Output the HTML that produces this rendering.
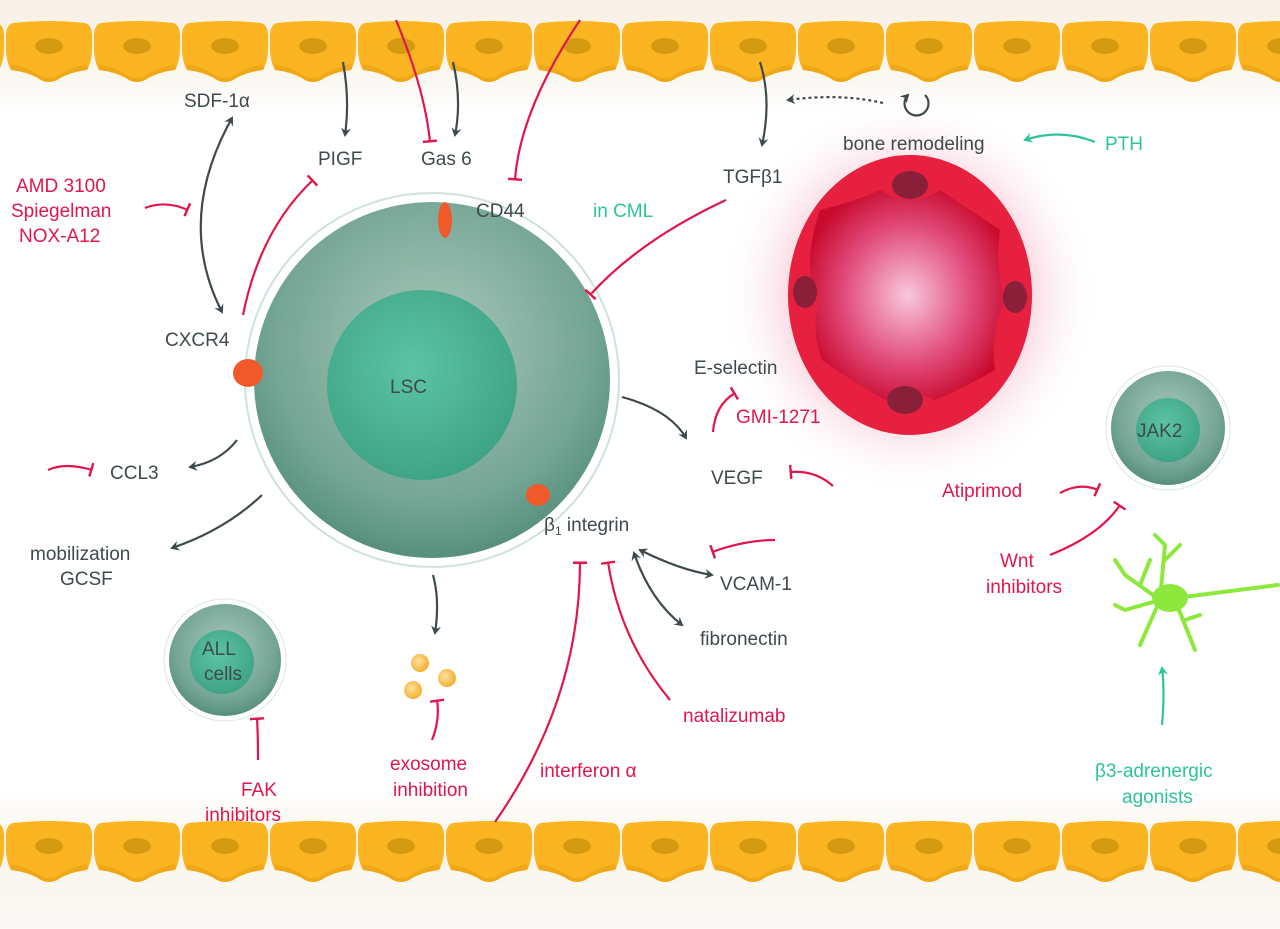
<!DOCTYPE html>
<html><head><meta charset="utf-8"><style>
html,body{margin:0;padding:0;background:#fff}
svg{display:block}
text{font-family:"Liberation Sans",sans-serif;font-size:19px}
.g{fill:#3f4a4e}.r{fill:#e0174d}.t{fill:#2cc49a}
</style></head><body>
<svg width="1280" height="929" viewBox="0 0 1280 929" xmlns="http://www.w3.org/2000/svg">
<defs>
<linearGradient id="topbg" x1="0" y1="0" x2="0" y2="1"><stop offset="0" stop-color="#f7f1e6"/><stop offset="0.7" stop-color="#faf7f1"/><stop offset="1" stop-color="#fff"/></linearGradient>
<linearGradient id="botbg" x1="0" y1="0" x2="0" y2="1"><stop offset="0" stop-color="#fff"/><stop offset="0.4" stop-color="#f8f4ec"/><stop offset="1" stop-color="#fbf9f5"/></linearGradient>
<pattern id="cells" x="5" y="20" width="88" height="70" patternUnits="userSpaceOnUse">
<path d="M8,3 Q44,-1 80,3 Q88,5 87,20 Q88,40 82,50 Q64,52 52,60 Q44,64 36,60 Q24,52 6,50 Q0,40 1,20 Q0,5 8,3Z" fill="#fbb520"/>
<path d="M6,44 Q24,48 36,56 Q44,60 52,56 Q64,48 82,44 Q84,48 82,50 Q64,52 52,60 Q44,64 36,60 Q24,52 6,50Z" fill="#f0a818"/>
<ellipse cx="44" cy="26" rx="14" ry="8" fill="#d49a12"/>
</pattern>
<radialGradient id="lsc" cx="0.5" cy="0.4" r="0.6"><stop offset="0" stop-color="#a9c8bb"/><stop offset="0.75" stop-color="#74a594"/><stop offset="1" stop-color="#568f7d"/></radialGradient>
<radialGradient id="nuc" cx="0.45" cy="0.4" r="0.6"><stop offset="0" stop-color="#5bc4a3"/><stop offset="1" stop-color="#3fa486"/></radialGradient>
<radialGradient id="ves" cx="0.5" cy="0.5" r="0.55"><stop offset="0" stop-color="#f8c8dc"/><stop offset="0.6" stop-color="#e14a7a"/><stop offset="1" stop-color="#c80a2c"/></radialGradient>
<radialGradient id="glow" cx="0.5" cy="0.5" r="0.5"><stop offset="0.6" stop-color="#f8d4de"/><stop offset="1" stop-color="#fff" stop-opacity="0"/></radialGradient>
<radialGradient id="exo" cx="0.4" cy="0.4" r="0.6"><stop offset="0" stop-color="#fde2a0"/><stop offset="1" stop-color="#f5b030"/></radialGradient>
<marker id="ar" markerWidth="10" markerHeight="10" refX="7" refY="5" orient="auto" markerUnits="userSpaceOnUse"><path d="M0,0 L9,5 L0,10 L3,5Z" fill="#3f4a4e"/></marker>
<marker id="ars" markerWidth="10" markerHeight="10" refX="2" refY="5" orient="auto" markerUnits="userSpaceOnUse"><path d="M9,0 L0,5 L9,10 L6,5Z" fill="#3f4a4e"/></marker>
<marker id="art" markerWidth="10" markerHeight="10" refX="7" refY="5" orient="auto" markerUnits="userSpaceOnUse"><path d="M0,0 L9,5 L0,10 L3,5Z" fill="#2cc49a"/></marker>
<marker id="tb" markerWidth="4" markerHeight="16" refX="2" refY="8" orient="auto" markerUnits="userSpaceOnUse"><rect x="0" y="1" width="2.5" height="14" fill="#e0174d"/></marker>
</defs>
<rect width="1280" height="929" fill="#fff"/>
<rect x="0" y="0" width="1280" height="110" fill="url(#topbg)"/>
<rect x="0" y="790" width="1280" height="139" fill="url(#botbg)"/>
<rect x="0" y="20" width="1280" height="65" fill="url(#cells)"/>
<g transform="translate(0,800)"><rect x="0" y="20" width="1280" height="65" fill="url(#cells)"/></g>

<!-- vessel -->
<ellipse cx="910" cy="295" rx="190" ry="200" fill="url(#glow)"/>
<ellipse cx="910" cy="295" rx="122" ry="140" fill="#e8203f"/>
<path d="M820,210 Q860,200 880,190 Q910,210 940,190 Q970,210 1000,230 Q995,270 1005,300 Q990,330 995,370 Q960,390 935,400 Q905,385 885,400 Q850,380 822,360 Q810,330 820,300 Q800,270 820,210Z" fill="url(#ves)"/>
<ellipse cx="910" cy="185" rx="18" ry="14" fill="#8a1f3a"/>
<ellipse cx="805" cy="292" rx="12" ry="16" fill="#8a1f3a"/>
<ellipse cx="1015" cy="297" rx="12" ry="16" fill="#8a1f3a"/>
<ellipse cx="905" cy="400" rx="18" ry="14" fill="#8a1f3a"/>

<!-- LSC -->
<circle cx="432" cy="380" r="187" fill="#fff" stroke="#cfe2d9" stroke-width="2"/>
<circle cx="432" cy="380" r="178" fill="url(#lsc)"/>
<circle cx="422" cy="385" r="95" fill="url(#nuc)"/>
<text x="390" y="393" class="g" font-size="20">LSC</text>
<ellipse cx="445" cy="220" rx="7" ry="18" fill="#f05a2a"/>
<ellipse cx="248" cy="373" rx="15" ry="14" fill="#f05a2a"/>
<ellipse cx="538" cy="495" rx="12" ry="11" fill="#f05a2a"/>

<!-- JAK2 -->
<circle cx="1168" cy="428" r="62" fill="#fff" stroke="#d8e8e0"/>
<circle cx="1168" cy="428" r="57" fill="url(#lsc)"/>
<circle cx="1168" cy="430" r="32" fill="url(#nuc)"/>
<text x="1137" y="437" class="g">JAK2</text>
<!-- ALL -->
<circle cx="225" cy="660" r="61" fill="#fff" stroke="#d8e8e0"/>
<circle cx="225" cy="660" r="56" fill="url(#lsc)"/>
<circle cx="222" cy="662" r="32" fill="url(#nuc)"/>
<text x="202" y="655" class="g">ALL</text><text x="204" y="680" class="g">cells</text>
<!-- exosomes -->
<circle cx="420" cy="663" r="9" fill="url(#exo)"/><circle cx="447" cy="678" r="9" fill="url(#exo)"/><circle cx="413" cy="690" r="9" fill="url(#exo)"/>
<!-- neuron -->
<g stroke="#8de83c" stroke-width="4" fill="none" stroke-linecap="round">
<path d="M1160,600 L1278,585"/><path d="M1160,600 L1125,575 L1115,560"/><path d="M1140,585 L1150,560"/><path d="M1160,600 L1165,545 L1155,535"/><path d="M1165,560 L1180,545"/><path d="M1160,600 L1125,610 L1115,605"/><path d="M1160,600 L1140,645"/><path d="M1175,600 L1195,650"/><path d="M1185,620 L1200,615"/>
</g>
<ellipse cx="1170" cy="598" rx="18" ry="14" fill="#8de83c"/>

<!-- gray arrows -->
<g stroke="#3f4a4e" stroke-width="2.2" fill="none">
<path d="M222,312 Q175,220 232,118" marker-end="url(#ar)" marker-start="url(#ars)"/>
<path d="M343,62 Q350,100 345,135" marker-end="url(#ar)"/>
<path d="M453,62 Q462,100 455,135" marker-end="url(#ar)"/>
<path d="M760,62 Q772,100 762,145" marker-end="url(#ar)"/>
<path d="M883,103 Q840,93 788,100" stroke-dasharray="3,3" marker-end="url(#ar)"/>
<path d="M925,95 A12,12 0 1 1 908,95" marker-end="url(#ar)"/>
<path d="M237,440 Q220,462 190,467" marker-end="url(#ar)"/>
<path d="M262,495 Q225,530 172,548" marker-end="url(#ar)"/>
<path d="M433,575 Q440,600 435,633" marker-end="url(#ar)"/>
<path d="M622,397 Q670,410 686,438" marker-end="url(#ar)"/>
<path d="M640,550 Q680,570 712,575" marker-end="url(#ar)" marker-start="url(#ars)"/>
<path d="M634,553 Q650,600 682,625" marker-end="url(#ar)" marker-start="url(#ars)"/>
</g>
<path d="M1095,142 Q1060,128 1025,140" stroke="#2cc49a" stroke-width="2.2" fill="none" marker-end="url(#art)"/>
<path d="M1162,725 Q1165,690 1162,668" stroke="#2cc49a" stroke-width="2.2" fill="none" marker-end="url(#art)"/>

<!-- red inhibition -->
<g stroke="#e0174d" stroke-width="2.2" fill="none">
<path d="M396,20 Q425,90 430,142" marker-end="url(#tb)"/>
<path d="M580,20 Q520,110 515,180" marker-end="url(#tb)"/>
<path d="M243,315 Q260,230 313,180" marker-end="url(#tb)"/>
<path d="M145,208 Q165,200 188,210" marker-end="url(#tb)"/>
<path d="M726,200 Q640,240 590,295" marker-end="url(#tb)"/>
<path d="M713,432 Q715,405 735,393" marker-end="url(#tb)"/>
<path d="M833,486 Q815,470 790,472" marker-end="url(#tb)"/>
<path d="M48,470 Q65,462 92,470" marker-end="url(#tb)"/>
<path d="M775,540 Q745,540 712,552" marker-end="url(#tb)"/>
<path d="M495,822 Q580,700 580,562" marker-end="url(#tb)"/>
<path d="M670,700 Q620,640 608,562" marker-end="url(#tb)"/>
<path d="M432,740 Q440,720 437,700" marker-end="url(#tb)"/>
<path d="M258,760 Q258,735 257,718" marker-end="url(#tb)"/>
<path d="M1060,493 Q1080,482 1098,490" marker-end="url(#tb)"/>
<path d="M1050,555 Q1100,535 1120,505" marker-end="url(#tb)"/>
</g>

<!-- labels -->
<text x="184" y="107" class="g">SDF-1α</text>
<text x="318" y="165" class="g">PIGF</text>
<text x="421" y="165" class="g">Gas 6</text>
<text x="476" y="217" class="g">CD44</text>
<text x="723" y="183" class="g">TGFβ1</text>
<text x="843" y="150" class="g">bone remodeling</text>
<text x="1105" y="150" class="t">PTH</text>
<text x="593" y="217" class="t">in CML</text>
<text x="16" y="192" class="r">AMD 3100</text>
<text x="11" y="217" class="r">Spiegelman</text>
<text x="19" y="242" class="r">NOX-A12</text>
<text x="165" y="346" class="g">CXCR4</text>
<text x="694" y="374" class="g">E-selectin</text>
<text x="736" y="423" class="r">GMI-1271</text>
<text x="711" y="484" class="g">VEGF</text>
<text x="110" y="479" class="g">CCL3</text>
<text x="30" y="560" class="g">mobilization</text>
<text x="60" y="585" class="g">GCSF</text>
<text x="544" y="531" class="g">β<tspan font-size="12" dy="4">1</tspan><tspan dy="-4"> integrin</tspan></text>
<text x="720" y="590" class="g">VCAM-1</text>
<text x="700" y="645" class="g">fibronectin</text>
<text x="683" y="722" class="r">natalizumab</text>
<text x="540" y="777" class="r">interferon α</text>
<text x="390" y="770" class="r">exosome</text>
<text x="393" y="796" class="r">inhibition</text>
<text x="241" y="796" class="r">FAK</text>
<text x="205" y="821" class="r">inhibitors</text>
<text x="942" y="497" class="r">Atiprimod</text>
<text x="1000" y="567" class="r">Wnt</text>
<text x="986" y="593" class="r">inhibitors</text>
<text x="1095" y="777" class="t">β3-adrenergic</text>
<text x="1122" y="803" class="t">agonists</text>
</svg>
</body></html>
